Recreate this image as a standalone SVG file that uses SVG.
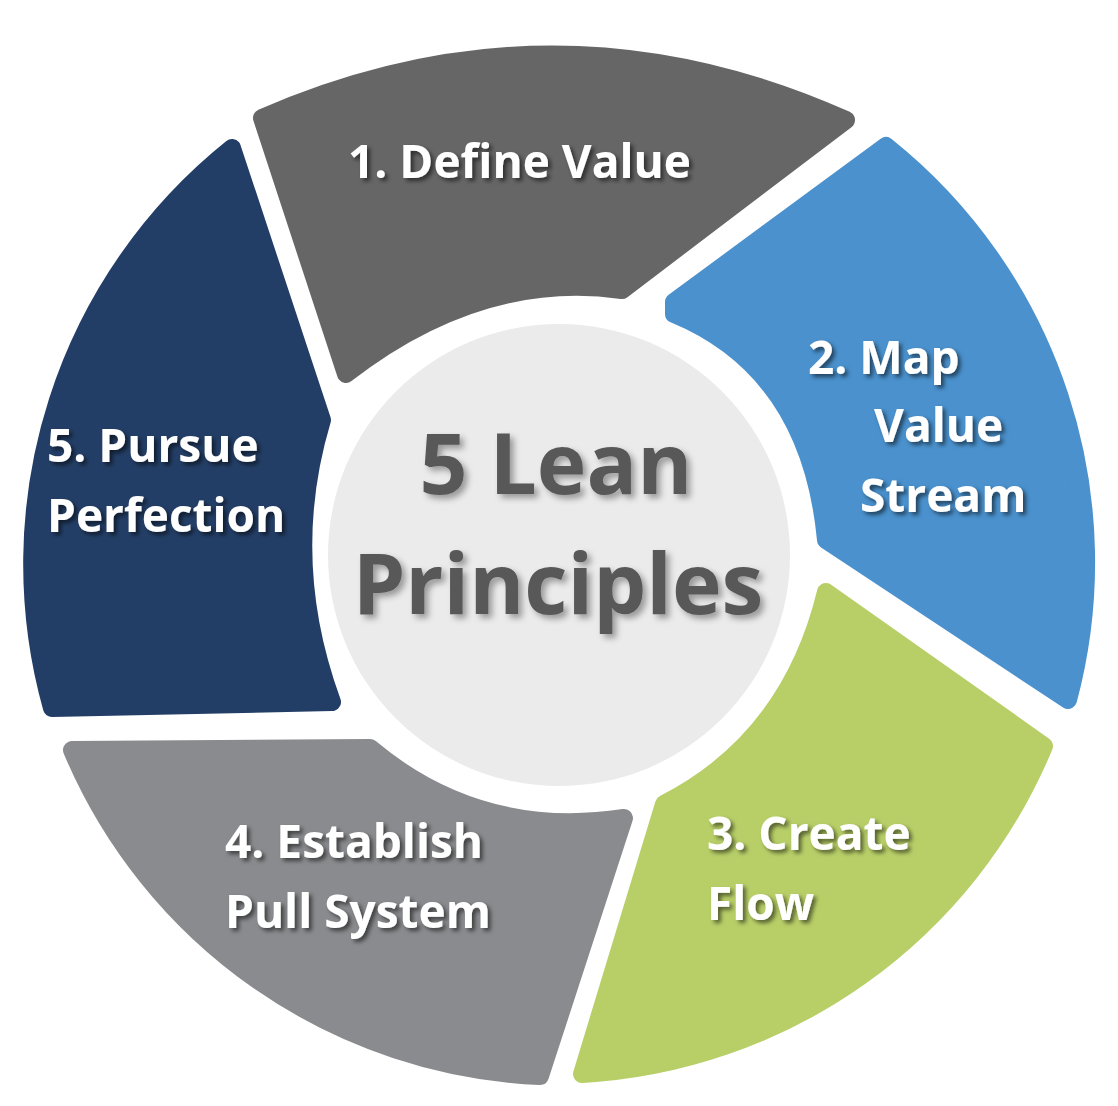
<svg xmlns="http://www.w3.org/2000/svg" width="1118" height="1106" viewBox="0 0 1118 1106">
<defs>
<filter id="sh" x="-20%" y="-20%" width="140%" height="140%"><feDropShadow dx="3" dy="3" stdDeviation="2" flood-color="#000" flood-opacity="0.55"/></filter>
<filter id="sh2" x="-20%" y="-20%" width="140%" height="140%"><feDropShadow dx="4" dy="4" stdDeviation="3" flood-color="#000" flood-opacity="0.35"/></filter>
</defs>
<style>
.seg{stroke-linejoin:round;stroke-width:18}
.lbl{font-family:"Open Sans","DejaVu Sans",sans-serif;font-weight:bold;font-size:46px;fill:#fff;filter:url(#sh)}
.ctr{font-family:"Open Sans","DejaVu Sans",sans-serif;font-weight:bold;font-size:84px;fill:#595959;filter:url(#sh2);text-anchor:middle}
</style>
<rect width="1118" height="1106" fill="#fff"/>
<g id="seg1"><path class="seg" fill="#666666" stroke="#666666" d="M262,118 Q555,-10 846,120 L622,290 Q480,270 346,374 Z"/><text class="lbl" x="348" y="178">1. Define Value</text></g>
<g id="seg2"><path class="seg" fill="#4a91cd" stroke="#4a91cd" d="M674,302 L886,146 A533,533 0 0 1 1068,700 L826,540 Q810,370 674,314 Z"/><text class="lbl" x="808" y="374">2. Map</text><text class="lbl" x="874" y="442">Value</text><text class="lbl" x="860" y="512">Stream</text></g>
<g id="seg3"><path class="seg" fill="#b8cf68" stroke="#b8cf68" d="M826,592 L1044,746 A533,533 0 0 1 582,1074 L664,804 Q790,740 826,592 Z"/><text class="lbl" x="707" y="850">3. Create</text><text class="lbl" x="707" y="920">Flow</text></g>
<g id="seg4"><path class="seg" fill="#8a8b8e" stroke="#8a8b8e" d="M624,818 L540,1076 A533,533 0 0 1 72,750 L370,748 Q480,840 624,818 Z"/><text class="lbl" x="225" y="858">4. Establish</text><text class="lbl" x="225" y="928">Pull System</text></g>
<g id="seg5"><path class="seg" fill="#233e66" stroke="#233e66" d="M52,708 A533,533 0 0 1 232,148 L322,420 Q280,560 332,702 Z"/><text class="lbl" x="47" y="462">5. Pursue</text><text class="lbl" x="47" y="532">Perfection</text></g>
<g id="center"><circle cx="559" cy="555" r="231" fill="#ebebeb"/><text class="ctr" x="556" y="494">5 Lean</text><text class="ctr" x="558" y="614">Principles</text></g>
<g id="connectors"/>
</svg>
